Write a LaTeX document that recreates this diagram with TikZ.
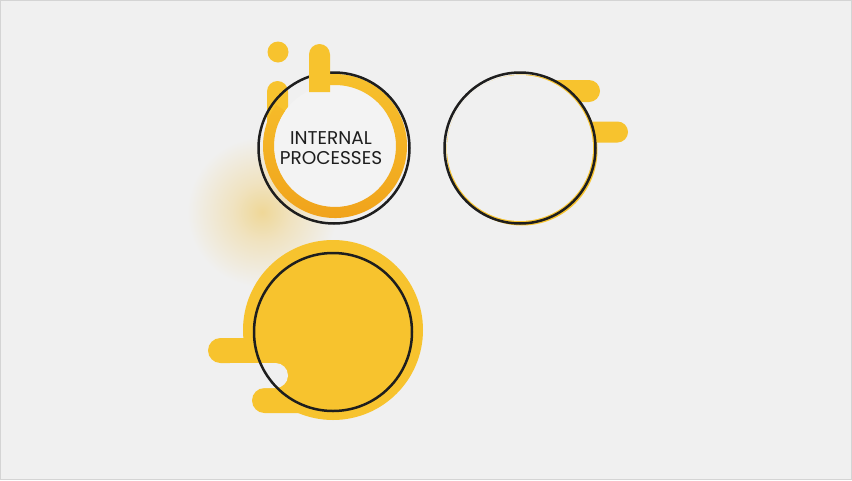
\documentclass[tikz,border=0pt]{standalone}
\usepackage{fontspec}
\setmainfont{Poppins}
\usetikzlibrary{calc}
\definecolor{bgc}{HTML}{F0F0F0}
\definecolor{yel}{HTML}{F7C32E}
\definecolor{org}{HTML}{F0A11A}
\definecolor{ink}{HTML}{1E1E1E}
\definecolor{innerc}{HTML}{F3F3F3}
\definecolor{glowc}{HTML}{EFCF7A}
\definecolor{framec}{HTML}{D4D4D4}
\pgfdeclareradialshading{glowshade}{\pgfpoint{0bp}{0bp}}{color(0bp)=(glowc!75!bgc); color(10bp)=(glowc!40!bgc); color(25bp)=(bgc); color(50bp)=(bgc)}
\tikzset{
  outline/.style={draw=ink, line width=2.5pt},
  txt/.style={text=ink, inner sep=0pt, font=\fontsize{18.5}{20}\selectfont, anchor=base},
}
\begin{document}
\begin{tikzpicture}[x=1pt,y=-1pt]
\fill[bgc] (0,0) rectangle (852,480);
\useasboundingbox (0,0) rectangle (852,480);

% ---------- glow ----------
\shade[shading=glowshade] (262,212) circle (75);

% ---------- circle 1 ----------
\coordinate (c1) at (335,146);
\fill[yel] (267,122) -- (267,91.5) arc[start angle=180, delta angle=180, radius=10.5] -- (288,122) -- cycle;
\fill[innerc] (c1) circle (61);
\shade[top color=yel, bottom color=org]
  ($(c1)+(-111:72)$) arc[start angle=-111, delta angle=326, radius=72]
  -- ($(c1)+(215:61)$) arc[start angle=215, delta angle=-326, radius=61] -- cycle;
\draw[outline] (334,148) circle (75.5);
\fill[yel] (309,92) -- (309,54.5) arc[start angle=180, delta angle=180, radius=10.5] -- (330,92) -- cycle;
\fill[yel] (278,52) circle (10.5);
\node[txt] (t1) at (331,144) {INTERNAL};
\node[txt] (t2) at (331,164.3) {PROCESSES};

% ---------- circle 2 ----------
\fill[yel] (540,80) -- (589,80) arc[start angle=-90, delta angle=180, radius=11] -- (540,102) -- cycle;
\fill[yel] (560,121.5) -- (617.5,121.5) arc[start angle=-90, delta angle=180, radius=10.5] -- (560,142.5) -- cycle;
\fill[yel] (522,150) circle (75.5);
\fill[bgc] (520,148) circle (73);
\draw[outline] (520,148) circle (75.5);

% ---------- circle 3 ----------
\fill[yel] (333,330) circle (90);
\fill[yel] (300,338) -- (220.5,338) arc[start angle=-90, delta angle=-180, radius=12.5] -- (300,363) -- cycle;
\fill[yel] (310,388) -- (264.5,388) arc[start angle=-90, delta angle=-180, radius=12.5] -- (310,413) -- cycle;
\fill[bgc] (230,363) -- (275.5,363) arc[start angle=-90, delta angle=180, radius=12.5] -- (230,388) -- cycle;
\draw[outline] (333,332) circle (79);

% ---------- frame ----------
\draw[framec, line width=1pt] (0.5,0.5) rectangle (851.5,479.5);
\end{tikzpicture}
\end{document}
